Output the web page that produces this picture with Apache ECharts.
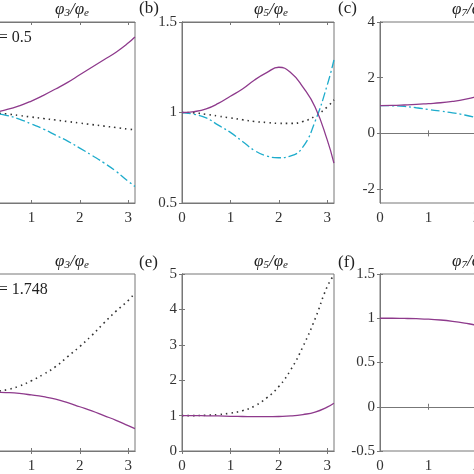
<!DOCTYPE html>
<html>
<head>
<meta charset="UTF-8">
<title>phi ratios</title>
<script src="https://cdn.jsdelivr.net/npm/echarts@6/dist/echarts.min.js"></script>
<style>
html,body{margin:0;padding:0;background:#fff;overflow:hidden;width:474px;height:474px;}
#chart{position:absolute;left:-40px;top:0;width:600px;height:474px;}
</style>
</head>
<body>
<div id="chart"></div>
<script>
// shared x samples
var xs = [0, 0.25, 0.5, 0.75, 1, 1.25, 1.5, 1.75, 2, 2.25, 2.5, 2.75, 3, 3.14];

// (a) phi3/phie, 0.5
var aSolid = [1, 1.002, 1.01, 1.022, 1.038, 1.057, 1.078, 1.10, 1.125, 1.15, 1.175, 1.20, 1.23, 1.25];
var aDot   = [1, 0.998, 0.995, 0.99, 0.985, 0.98, 0.975, 0.97, 0.965, 0.96, 0.955, 0.95, 0.945, 0.943];
var aDash  = [1, 0.997, 0.99, 0.978, 0.962, 0.945, 0.925, 0.905, 0.882, 0.858, 0.833, 0.805, 0.772, 0.755];
// (b) phi5/phie
var bSolid = [1, 1.005, 1.02, 1.05, 1.09, 1.13, 1.18, 1.22, 1.25, 1.22, 1.14, 1.03, 0.85, 0.72];
var bDot   = [1, 0.998, 0.99, 0.98, 0.97, 0.96, 0.95, 0.945, 0.94, 0.94, 0.95, 0.98, 1.03, 1.07];
var bDash  = [1, 0.99, 0.97, 0.93, 0.89, 0.84, 0.79, 0.76, 0.75, 0.76, 0.81, 0.95, 1.15, 1.29];
// (c) phi7/phie
var cSolid = [1, 1.005, 1.02, 1.04, 1.07, 1.1, 1.15, 1.22, 1.32, 1.45, 1.62, 1.85, 2.1, 2.25];
var cDash  = [1, 0.99, 0.97, 0.92, 0.86, 0.8, 0.74, 0.66, 0.56, 0.45, 0.32, 0.17, 0.0, -0.1];
// (d) phi3/phie, 1.748
var dSolid = [1, 0.998, 0.99, 0.975, 0.95, 0.92, 0.88, 0.82, 0.75, 0.68, 0.6, 0.52, 0.43, 0.38];
var dDot   = [1, 1.01, 1.04, 1.1, 1.19, 1.3, 1.43, 1.6, 1.77, 1.96, 2.17, 2.37, 2.55, 2.68];
// (e) phi5/phie
var eSolid = [1, 1, 0.995, 0.99, 0.98, 0.975, 0.97, 0.97, 0.975, 0.99, 1.03, 1.1, 1.24, 1.35];
var eDot   = [1, 1, 1.01, 1.03, 1.07, 1.14, 1.27, 1.5, 1.82, 2.3, 2.95, 3.73, 4.64, 4.97];
// (f) phi7/phie
var fSolid = [1, 1, 0.998, 0.995, 0.99, 0.98, 0.965, 0.945, 0.92, 0.88, 0.83, 0.77, 0.7, 0.66];

// y ranges and tick values per panel
var yMin = [0.7, 0.5, -2.5, 0, 0, -0.5];
var yMax = [1.3, 1.5, 4, 3, 5, 1.5];
var yTicks = [
    [0.7, 0.8, 0.9, 1, 1.1, 1.2, 1.3],
    [0.5, 1, 1.5],
    [-2, 0, 2, 4],
    [0, 0.5, 1, 1.5, 2, 2.5, 3],
    [0, 1, 2, 3, 4, 5],
    [-0.5, 0, 0.5, 1, 1.5]
];
var yLabels = [false, true, true, false, true, true];
var xTicks = [0, 1, 2, 3];
var titles = ['{i|φ}{s|3}{i|/φ}{s|e}', '{i|φ}{s|5}{i|/φ}{s|e}', '{i|φ}{s|7}{i|/φ}{s|e}',
              '{i|φ}{s|3}{i|/φ}{s|e}', '{i|φ}{s|5}{i|/φ}{s|e}', '{i|φ}{s|7}{i|/φ}{s|e}'];

var PURPLE = '#8e3a8c', CYAN = '#1eaccc', BLACK = '#333';
var FONT = 'Liberation Serif';
var OFF = 40; // chart div is shifted left by this much
var lefts = [-17 + OFF, 182 + OFF, 380 + OFF];
var tops = [22, 274];

var grids = [], xAxes = [], yAxes = [], series = [], graphics = [];
for (var k = 0; k < 6; k++) {
    var col = k % 3, row = Math.floor(k / 3);
    grids.push({left: lefts[col], top: tops[row], width: 152, height: 181,
        show: true, borderColor: '#777', borderWidth: 1, backgroundColor: '#fff'});
    var axLine = {show: true, lineStyle: {color: '#777'}};
    var tick = {inside: true, length: 3, lineStyle: {color: '#777'}};
    xAxes.push({gridIndex: k, type: 'value', min: 0, max: Math.PI,
        axisLine: axLine, splitLine: {show: false},
        axisTick: Object.assign({customValues: xTicks}, tick),
        axisLabel: {customValues: xTicks, color: '#333', fontFamily: FONT, fontSize: 15, margin: 8}});
    xAxes.push({gridIndex: k, type: 'value', position: 'top', min: 0, max: Math.PI,
        axisLine: axLine, splitLine: {show: false}, axisLabel: {show: false},
        axisTick: Object.assign({customValues: xTicks}, tick)});
    yAxes.push({gridIndex: k, type: 'value', min: yMin[k], max: yMax[k],
        axisLine: axLine, splitLine: {show: false},
        axisTick: Object.assign({customValues: yTicks[k]}, tick),
        axisLabel: {show: yLabels[k], customValues: yTicks[k], color: '#333', fontFamily: FONT, fontSize: 15, margin: 5}});
    yAxes.push({gridIndex: k, type: 'value', position: 'right', min: yMin[k], max: yMax[k],
        axisLine: axLine, splitLine: {show: false}, axisLabel: {show: false},
        axisTick: Object.assign({customValues: yTicks[k]}, tick)});
    graphics.push({type: 'text', left: lefts[col] + 72, top: tops[row] - 21,
        style: {text: titles[k], fill: '#222',
            rich: {i: {fontFamily: FONT, fontStyle: 'italic', fontSize: 17, fill: '#222'},
                   s: {fontFamily: FONT, fontStyle: 'italic', fontSize: 11, fill: '#222', padding: [7, 0, 0, 0]}}}});
}

function pts(arr) { return xs.map(function (x, i) { return [x, arr[i]]; }); }
function line(k, arr, kind) {
    var ls = {width: 1.3};
    if (kind === 'solid') { ls.color = PURPLE; }
    if (kind === 'dot') { ls.color = BLACK; ls.type = [1.5, 4]; ls.width = 1.6; }
    if (kind === 'dash') { ls.color = CYAN; ls.type = [9, 3, 2, 3]; }
    series.push({type: 'line', xAxisIndex: 2 * k, yAxisIndex: 2 * k, data: pts(arr),
        smooth: true, symbol: 'none', lineStyle: ls, silent: true, z: 3});
}
line(0, aDot, 'dot'); line(0, aDash, 'dash'); line(0, aSolid, 'solid');
line(1, bDot, 'dot'); line(1, bDash, 'dash'); line(1, bSolid, 'solid');
line(2, cDash, 'dash'); line(2, cSolid, 'solid');
line(3, dDot, 'dot'); line(3, dSolid, 'solid');
line(4, eDot, 'dot'); line(4, eSolid, 'solid');
line(5, fSolid, 'solid');

var panelTags = [['(b)', 139, 0], ['(c)', 338, 0], ['(e)', 139, 254], ['(f)', 338, 254]];
panelTags.forEach(function (t) {
    graphics.push({type: 'text', left: t[1] + OFF, top: t[2],
        style: {text: t[0], font: '17px ' + FONT, fill: '#222'}});
});
graphics.push({type: 'text', left: OFF - 12, top: 30, style: {text: 'ε = 0.5', font: '16px ' + FONT, fill: '#222'}});
graphics.push({type: 'text', left: OFF - 12, top: 282, style: {text: 'ε = 1.748', font: '16px ' + FONT, fill: '#222'}});

var myChart = echarts.init(document.getElementById('chart'));
myChart.setOption({
    animation: false,
    grid: grids,
    xAxis: xAxes,
    yAxis: yAxes,
    series: series,
    graphic: graphics
});
</script>
</body>
</html>
